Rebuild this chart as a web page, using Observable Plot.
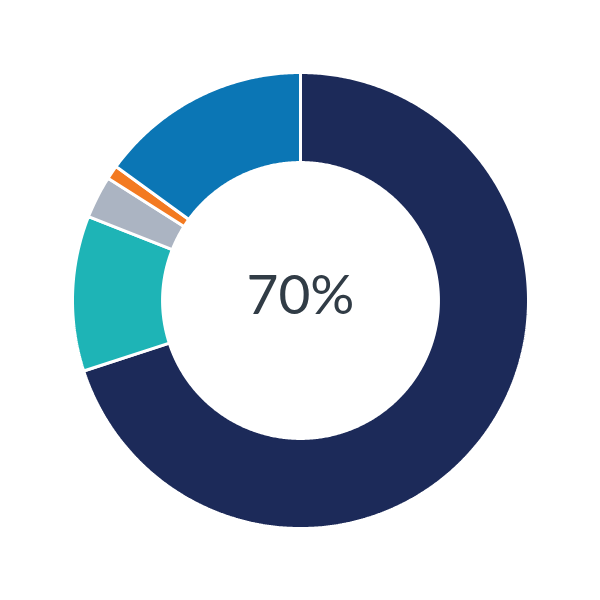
<!DOCTYPE html>
<html>
<head>
<meta charset="utf-8">
<script src="https://cdn.jsdelivr.net/npm/d3@7"></script>
<script src="https://cdn.jsdelivr.net/npm/@observablehq/plot@0.6"></script>
<style>
  html, body { margin: 0; padding: 0; background: #fff; }
  #chart { width: 600px; height: 600px; }
</style>
</head>
<body>
<div id="chart"></div>
<script>
// Data (clockwise from 12 o'clock)
const categories = ["A", "B", "C", "D", "E"];
const values = [70, 11, 3, 1, 15];
const colors = ["#1c2a59", "#1eb4b6", "#abb4c2", "#f37a21", "#0b76b5"];
const centerLabel = values[0] + "%";

const outerR = 1;
const innerR = 0.605;
const total = d3.sum(values);

// Build polygon outlines for each slice from the values
const pts = [];
let cum = 0;
values.forEach((v, i) => {
  const a0 = (cum / total) * 2 * Math.PI;
  const a1 = ((cum + v) / total) * 2 * Math.PI;
  cum += v;
  const n = Math.max(4, Math.ceil((a1 - a0) / (Math.PI / 360)));
  for (let k = 0; k <= n; k++) {
    const a = a0 + (a1 - a0) * k / n;
    pts.push({cat: categories[i], x: outerR * Math.sin(a), y: outerR * Math.cos(a)});
  }
  for (let k = n; k >= 0; k--) {
    const a = a0 + (a1 - a0) * k / n;
    pts.push({cat: categories[i], x: innerR * Math.sin(a), y: innerR * Math.cos(a)});
  }
});

const span = 300 / 228;
const chart = Plot.plot({
  width: 600,
  height: 600,
  margin: 0,
  x: {domain: [-span, span], axis: null},
  y: {domain: [-span, span], axis: null},
  color: {domain: categories, range: colors},
  style: {background: "#fff"},
  marks: [
    Plot.line(pts, {x: "x", y: "y", z: "cat", fill: "cat", stroke: "#fff", strokeWidth: 3, curve: "linear-closed", strokeLinejoin: "miter"}),
    Plot.text([centerLabel], {x: () => 0, y: () => 0, text: d => d, fontSize: 55, fontFamily: "Lato", fill: "#313c46", dy: -4})
  ]
});
document.getElementById("chart").appendChild(chart);
</script>
</body>
</html>
